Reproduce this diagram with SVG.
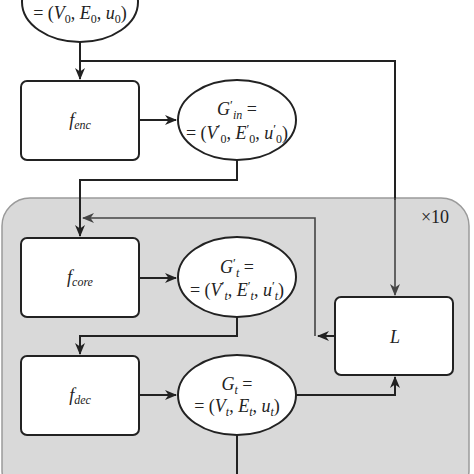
<svg xmlns="http://www.w3.org/2000/svg" width="474" height="474" viewBox="0 0 474 474">
<defs>
<marker id="ah" viewBox="0 0 12 10" refX="11" refY="5" markerWidth="12" markerHeight="10" markerUnits="userSpaceOnUse" orient="auto">
<path d="M0,0 L12,5 L0,10 L3.5,5 z" fill="#222"/>
</marker>
<marker id="ahg" viewBox="0 0 12 10" refX="11" refY="5" markerWidth="12" markerHeight="10" markerUnits="userSpaceOnUse" orient="auto">
<path d="M0,0 L12,5 L0,10 L3.5,5 z" fill="#444"/>
</marker>
</defs>
<style>
.box{fill:#fff;stroke:#222;stroke-width:2}
.ell{fill:#fff;stroke:#222;stroke-width:2}
.ln{fill:none;stroke:#222;stroke-width:2}
.lg{fill:none;stroke:#444;stroke-width:1.6}
text{font-family:"Liberation Serif","DejaVu Serif",serif;font-size:18px;fill:#222;text-anchor:middle}
.i{font-style:italic}
.s{font-size:12px}
.p{font-size:13px}
</style>
<rect width="474" height="474" fill="#fff"/>
<g id="panel">
<rect x="2" y="198" width="467" height="300" rx="28" fill="#d9d9d9" stroke="#9a9a9a" stroke-width="1.5"/>
<text x="435" y="223" font-size="16">×10</text>
</g>
<g id="connectors">
<path class="ln" d="M80,42 V79" marker-end="url(#ah)"/>
<path class="ln" d="M80,61 H395 V200"/>
<path class="lg" d="M395,198 V295" marker-end="url(#ahg)"/>
<path class="ln" d="M139,120 H176" marker-end="url(#ah)"/>
<path class="ln" d="M237,160 V180 H80 V236" marker-end="url(#ah)"/>
<path class="lg" d="M315,336 V218 H83" marker-end="url(#ahg)"/>
<path class="ln" d="M139,278 H176" marker-end="url(#ah)"/>
<path class="ln" d="M237,317 V336 H80 V354" marker-end="url(#ah)"/>
<path class="ln" d="M335,336 H318" marker-end="url(#ah)"/>
<path class="ln" d="M139,395 H176" marker-end="url(#ah)"/>
<path class="ln" d="M296,395 H395 V377" marker-end="url(#ah)"/>
<path class="ln" d="M237,435 V474"/>
</g>
<g id="G0">
<ellipse class="ell" cx="80" cy="2" rx="58" ry="40"/>
<text x="80" y="19"><tspan>= (</tspan><tspan class="i">V</tspan><tspan class="s" dy="4">0</tspan><tspan dy="-4">, </tspan><tspan class="i">E</tspan><tspan class="s" dy="4">0</tspan><tspan dy="-4">, </tspan><tspan class="i">u</tspan><tspan class="s" dy="4">0</tspan><tspan dy="-4">)</tspan></text>
</g>
<g id="fenc">
<rect class="box" x="21" y="81" width="118" height="79" rx="6"/>
<text x="80" y="126"><tspan class="i">f</tspan><tspan class="s i" dy="3">enc</tspan></text>
</g>
<g id="Gin">
<ellipse class="ell" cx="237" cy="120" rx="59" ry="40"/>
<text x="237" y="115"><tspan class="i">G</tspan><tspan class="p" dy="-6">′</tspan><tspan class="s i" dy="10">in</tspan><tspan dy="-4"> =</tspan></text>
<text x="237" y="139"><tspan>= (</tspan><tspan class="i">V</tspan><tspan class="p" dy="-6">′</tspan><tspan class="s" dy="10">0</tspan><tspan dy="-4">, </tspan><tspan class="i">E</tspan><tspan class="p" dy="-6">′</tspan><tspan class="s" dy="10">0</tspan><tspan dy="-4">, </tspan><tspan class="i">u</tspan><tspan class="p" dy="-6">′</tspan><tspan class="s" dy="10">0</tspan><tspan dy="-4">)</tspan></text>
</g>
<g id="fcore">
<rect class="box" x="21" y="238" width="118" height="79" rx="6"/>
<text x="80" y="283"><tspan class="i">f</tspan><tspan class="s i" dy="3">core</tspan></text>
</g>
<g id="Gtp">
<ellipse class="ell" cx="237" cy="277" rx="59" ry="40"/>
<text x="237" y="273"><tspan class="i">G</tspan><tspan class="p" dy="-6">′</tspan><tspan class="s i" dy="10">t</tspan><tspan dy="-4"> =</tspan></text>
<text x="237" y="296"><tspan>= (</tspan><tspan class="i">V</tspan><tspan class="p" dy="-6">′</tspan><tspan class="s i" dy="10">t</tspan><tspan dy="-4">, </tspan><tspan class="i">E</tspan><tspan class="p" dy="-6">′</tspan><tspan class="s i" dy="10">t</tspan><tspan dy="-4">, </tspan><tspan class="i">u</tspan><tspan class="p" dy="-6">′</tspan><tspan class="s i" dy="10">t</tspan><tspan dy="-4">)</tspan></text>
</g>
<g id="L">
<rect class="box" x="335" y="297" width="118" height="78" rx="6"/>
<text x="395" y="343" class="i">L</text>
</g>
<g id="fdec">
<rect class="box" x="21" y="356" width="118" height="79" rx="6"/>
<text x="80" y="401"><tspan class="i">f</tspan><tspan class="s i" dy="3">dec</tspan></text>
</g>
<g id="Gt">
<ellipse class="ell" cx="237" cy="395" rx="59" ry="40"/>
<text x="237" y="390"><tspan class="i">G</tspan><tspan class="s i" dy="4">t</tspan><tspan dy="-4"> =</tspan></text>
<text x="237" y="412"><tspan>= (</tspan><tspan class="i">V</tspan><tspan class="s i" dy="4">t</tspan><tspan dy="-4">, </tspan><tspan class="i">E</tspan><tspan class="s i" dy="4">t</tspan><tspan dy="-4">, </tspan><tspan class="i">u</tspan><tspan class="s i" dy="4">t</tspan><tspan dy="-4">)</tspan></text>
</g>
</svg>
